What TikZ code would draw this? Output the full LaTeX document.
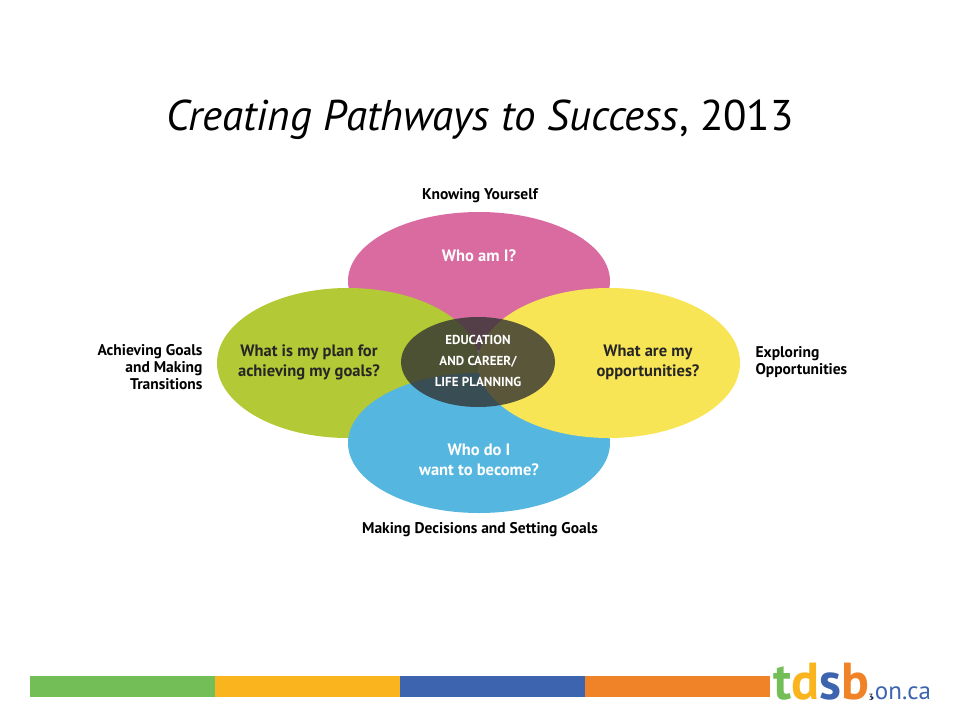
\documentclass[tikz,border=0pt]{standalone}
\usepackage{fontspec}
\setmainfont{PT Sans}
\begin{document}
\begin{tikzpicture}[x=1pt,y=-1pt,
 lbl/.style={font=\fontsize{15.5}{17}\selectfont\bfseries,align=center},
 inl/.style={font=\fontsize{16.5}{20}\selectfont\bfseries,align=center},
 bar/.style={inner sep=0,minimum height=21pt,minimum width=185pt,anchor=north west}]
\useasboundingbox (0,0) rectangle (960,720);
\definecolor{pk}{HTML}{D96BA0}\definecolor{gr}{HTML}{B3C935}
\definecolor{yl}{HTML}{F8E556}\definecolor{bl}{HTML}{55B7E0}
\definecolor{lg}{RGB}{116,190,88}\definecolor{ly}{RGB}{250,180,30}
\definecolor{lb}{RGB}{60,100,175}\definecolor{lo}{RGB}{240,130,40}
\node (title) at (480,120) {\fontsize{43}{50}\selectfont\itshape Creating Pathways to Success\upshape, 2013};
\fill[pk] (479,281) ellipse [x radius=131, y radius=69];
\fill[gr] (348,363) ellipse [x radius=131, y radius=75];
\fill[bl] (479,443) ellipse [x radius=131, y radius=70];
\fill[yl] (609,363) ellipse [x radius=131, y radius=75];
\fill[black!80,opacity=0.8] (478,362) ellipse [x radius=77, y radius=45];
\node[inl,text=white] (c1) at (479,256) {Who am I?};
\node[inl,text=black!85] (c2) at (309,362) {What is my plan for\\achieving my goals?};
\node[inl,text=black!85] (c3) at (648,362) {What are my\\opportunities?};
\node[inl,text=white] (c4) at (479,460) {Who do I\\want to become?};
\node[font=\fontsize{13}{21}\selectfont\bfseries,text=white,align=center] (ctr) at (478,361) {EDUCATION\\AND CAREER/\\LIFE PLANNING};
\node[lbl] (l1) at (480,196) {Knowing Yourself};
\node[lbl,align=right,anchor=east] (l2) at (206,367) {Achieving Goals\\and Making\\Transitions};
\node[lbl,align=left,anchor=west] (l3) at (752,362) {Exploring\\Opportunities};
\node[lbl] (l4) at (480,530) {Making Decisions and Setting Goals};
\node[bar,fill=lg] (b1) at (30,676) {};
\node[bar,fill=ly] (b2) at (215,676) {};
\node[bar,fill=lb] (b3) at (400,676) {};
\node[bar,fill=lo] (b4) at (585,676) {};
\node[anchor=south west,inner sep=0,font=\fontsize{52}{52}\selectfont\bfseries] (logo) at (773,700)
 {\textcolor{lg}{t}\textcolor{ly}{d}\textcolor{lb}{s}\textcolor{lo}{b}};
\node[anchor=south west,inner sep=0,font=\fontsize{25}{25}\selectfont,text=lb] (dom) at (logo.south east) {.on.ca};
\node[font=\fontsize{9}{9}\selectfont,inner sep=0,anchor=north] (pg) at (871,694) {3};
\end{tikzpicture}
\end{document}
